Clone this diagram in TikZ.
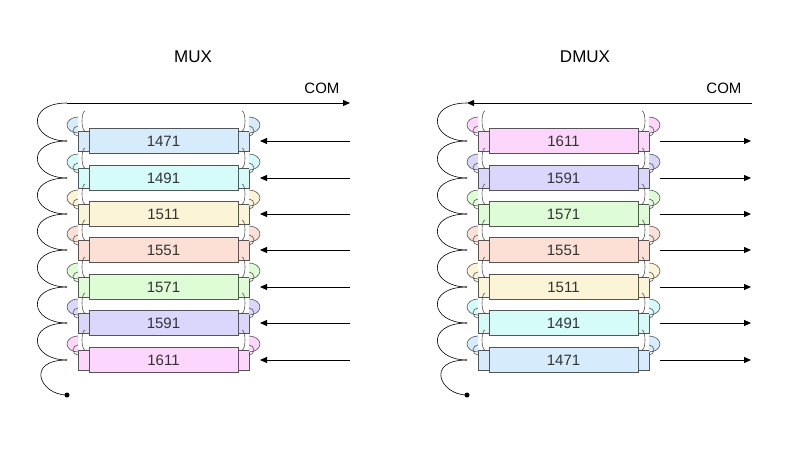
\documentclass[tikz,border=0pt]{standalone}
\usepackage{fontspec}
\setmainfont{Liberation Sans}
\usetikzlibrary{arrows.meta}
\definecolor{c1471}{HTML}{D6ECFC}
\definecolor{c1491}{HTML}{D6FCFA}
\definecolor{c1511}{HTML}{FCF4D6}
\definecolor{c1551}{HTML}{FCE0D6}
\definecolor{c1571}{HTML}{DEFCD6}
\definecolor{c1591}{HTML}{DAD6FC}
\definecolor{c1611}{HTML}{FCD6FC}
\definecolor{edge}{HTML}{555555}
\tikzset{
  body/.style={draw=edge,minimum width=149pt,minimum height=25pt,inner sep=0pt,font=\fontsize{15}{15}\selectfont,text=black!80},
  part/.style={draw=edge,line width=0.6pt},
  sig/.style={line width=1pt,-{Triangle[length=7pt,width=6pt]}},
  loop/.style={line width=0.6pt},
}
% #1 name, #2 x center, #3 y, #4 colour, #5 label
\newcommand{\filt}[5]{%
  \node[body,fill=#4] (#1) at (#2,#3) {#5};
  \filldraw[part,fill=#4] (#2-74.5,#3-10) rectangle (#2-85.5,#3+10);
  \draw[part] (#2-78.5,#3-10) arc[start angle=90,end angle=270,x radius=3,y radius=10];
  \filldraw[part,fill=#4] (#2-85.5,#3-8) arc[start angle=90,end angle=270,x radius=11,y radius=8];
  \draw[part] (#2-85.5,#3-5) arc[start angle=90,end angle=270,x radius=5,y radius=5];
  \filldraw[part,fill=#4] (#2+74.5,#3-10) rectangle (#2+85.5,#3+10);
  \draw[part] (#2+78.5,#3-10) arc[start angle=90,end angle=-90,x radius=3,y radius=10];
  \filldraw[part,fill=#4] (#2+85.5,#3-8) arc[start angle=90,end angle=-90,x radius=11,y radius=8];
  \draw[part] (#2+85.5,#3-5) arc[start angle=90,end angle=-90,x radius=5,y radius=5];
  \coordinate (#1L) at (#2-96.5,#3);
  \coordinate (#1R) at (#2+96.5,#3);
}
\begin{document}
\begin{tikzpicture}[x=1pt,y=-1pt]
\useasboundingbox (0,0) rectangle (800,450);
\node[font=\fontsize{17}{17}\selectfont] (tm) at (193,57) {MUX};
\node[font=\fontsize{17}{17}\selectfont] (td) at (585,57) {DMUX};
% MUX
\coordinate (ms) at (67,103);
\coordinate (me) at (350,103);
\draw[sig] (ms) -- (me);
\node[font=\fontsize{15}{15}\selectfont,anchor=south east] (mc) at (343,97) {COM};
\filt{m1}{163.5}{141}{c1471}{1471}
\filt{m2}{163.5}{178}{c1491}{1491}
\filt{m3}{163.5}{214}{c1511}{1511}
\filt{m4}{163.5}{250}{c1551}{1551}
\filt{m5}{163.5}{287}{c1571}{1571}
\filt{m6}{163.5}{323}{c1591}{1591}
\filt{m7}{163.5}{360}{c1611}{1611}
\foreach \i in {1,...,7}{\coordinate (mi\i) at (350,0|-m\i); \draw[sig] (mi\i) -- (m\i R);}
\draw[loop] (ms) .. controls (25,103) and (30,141) .. (m1L);
\foreach \a/\b in {1/2,2/3,3/4,4/5,5/6,6/7}{\draw[loop] (m\a L) .. controls (25,0|-m\a L) and (30,0|-m\b L) .. (m\b L);}
\coordinate (mend) at (67,395);
\draw[loop] (m7L) .. controls (25,360) and (40,395) .. (mend);
\fill (mend) circle (2.5);
% DMUX
\coordinate (ds) at (752,103);
\coordinate (de) at (467,103);
\draw[sig] (ds) -- (de);
\node[font=\fontsize{15}{15}\selectfont,anchor=south east] (dc) at (745,97) {COM};
\filt{d1}{563.5}{141}{c1611}{1611}
\filt{d2}{563.5}{178}{c1591}{1591}
\filt{d3}{563.5}{214}{c1571}{1571}
\filt{d4}{563.5}{250}{c1551}{1551}
\filt{d5}{563.5}{287}{c1511}{1511}
\filt{d6}{563.5}{323}{c1491}{1491}
\filt{d7}{563.5}{360}{c1471}{1471}
\foreach \i in {1,...,7}{\coordinate (do\i) at (751,0|-d\i); \draw[sig] (d\i R) -- (do\i);}
\draw[loop] (de) .. controls (425,103) and (430,141) .. (d1L);
\foreach \a/\b in {1/2,2/3,3/4,4/5,5/6,6/7}{\draw[loop] (d\a L) .. controls (425,0|-d\a L) and (430,0|-d\b L) .. (d\b L);}
\coordinate (dend) at (467,395);
\draw[loop] (d7L) .. controls (425,360) and (440,395) .. (dend);
\fill (dend) circle (2.5);
\end{tikzpicture}
\end{document}
